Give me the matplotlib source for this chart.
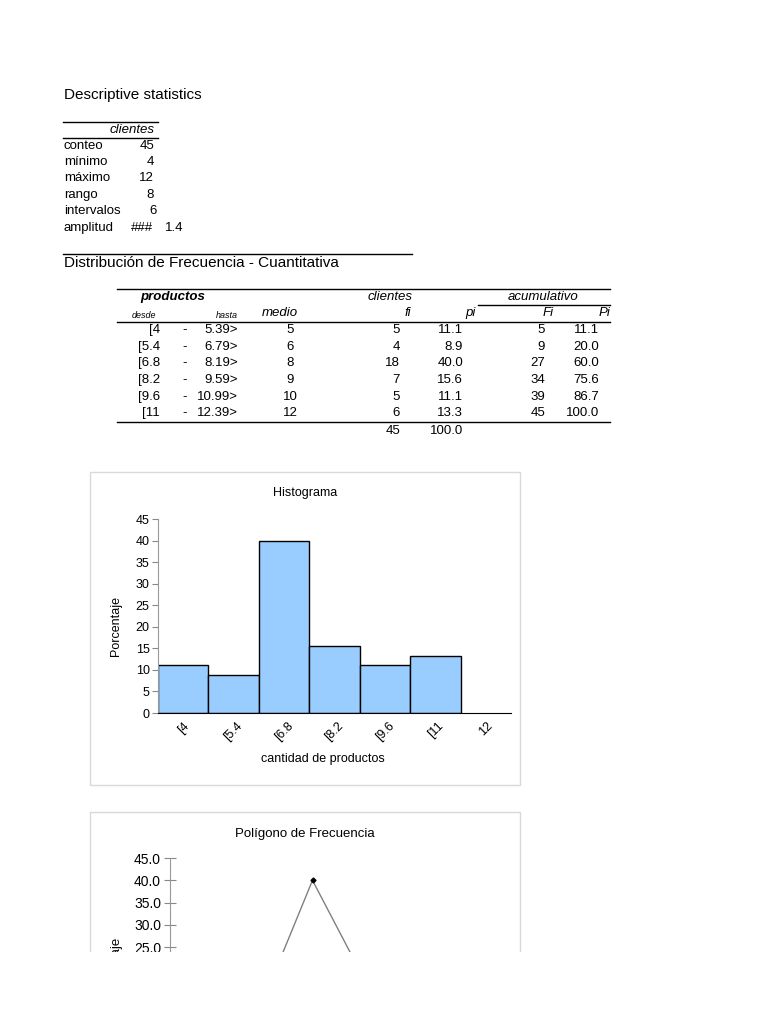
import matplotlib
matplotlib.use("Agg")
import matplotlib.pyplot as plt
from matplotlib.patches import Rectangle
from matplotlib.lines import Line2D

plt.rcParams['font.family'] = ['Liberation Sans', 'DejaVu Sans']

# ---------------- data ----------------
stat_names = ["conteo", "mínimo", "máximo", "rango", "intervalos", "amplitud"]
stat_values = ["45", "4", "12", "8", "6", "###"]
amplitud_extra = "1.4"

desde = ["[4", "[5.4", "[6.8", "[8.2", "[9.6", "[11"]
hasta = ["5.39>", "6.79>", "8.19>", "9.59>", "10.99>", "12.39>"]
medio = [5, 6, 8, 9, 10, 12]
fi = [5, 4, 18, 7, 5, 6]
pi = [11.1, 8.9, 40.0, 15.6, 11.1, 13.3]
Fi = [5, 9, 27, 34, 39, 45]
Pi = [11.1, 20.0, 60.0, 75.6, 86.7, 100.0]
total_fi = 45
total_pi = 100.0

hist_labels = ["[4", "[5.4", "[6.8", "[8.2", "[9.6", "[11", "12"]
hist_yticks = [0, 5, 10, 15, 20, 25, 30, 35, 40, 45]
poly_yticks = [0, 5, 10, 15, 20, 25, 30, 35, 40, 45]

W, H = 768, 1024
fig = plt.figure(figsize=(W / 100, H / 100), dpi=100)
fig.patch.set_facecolor('white')

TFS = 9.5  # table font size


def fx(x):
    return x / W


def fy(y):
    return 1 - y / H


def txt(x, y, s, **kw):
    kw.setdefault('va', 'center')
    kw.setdefault('fontsize', TFS)
    fig.text(fx(x), fy(y), s, **kw)


def hline(x0, x1, y, color='black', lw=1.0):
    fig.add_artist(Line2D([fx(x0), fx(x1)], [fy(y), fy(y)],
                          transform=fig.transFigure, color=color, lw=lw))


# ---------------- Descriptive statistics ----------------
txt(64, 95, "Descriptive statistics", fontsize=11)
hline(63, 158, 122)
txt(155, 130, "clientes", ha='right', style='italic')
hline(63, 158, 138)
row_y = [146, 162, 178, 195, 211, 228]
val_x = [154, 154, 154, 154, 157, 153]
for name, val, y, vx in zip(stat_names, stat_values, row_y, val_x):
    txt(64, y, name)
    txt(vx, y, val, ha='right')
txt(165, 228, amplitud_extra)

hline(63, 412, 254)
txt(64, 263, "Distribución de Frecuencia - Cuantitativa", fontsize=11)

# ---------------- Frequency table ----------------
hline(117, 610, 289)
txt(173, 297, "productos", ha='center', style='italic', weight='bold')
txt(390, 297, "clientes", ha='center', style='italic')
txt(543, 297, "acumulativo", ha='center', style='italic')
hline(478, 610, 305)
txt(144, 315, "desde", ha='center', style='italic', fontsize=6.5)
txt(238, 315, "hasta", ha='right', style='italic', fontsize=6.5)
txt(280, 313, "medio", ha='center', style='italic')
txt(411, 313, "fi", ha='right', style='italic')
txt(476, 313, "pi", ha='right', style='italic')
txt(554, 313, "Fi", ha='right', style='italic')
txt(610, 313, "Pi", ha='right', style='italic')
hline(117, 610, 322)

trow_y = [330, 347, 363, 380, 397, 413]
for i, y in enumerate(trow_y):
    txt(160, y, desde[i], ha='right')
    txt(185, y, "-", ha='center')
    txt(238, y, hasta[i], ha='right')
    txt(290, y, str(medio[i]), ha='center')
    txt(400, y, str(fi[i]), ha='right')
    txt(463, y, f"{pi[i]:.1f}", ha='right')
    txt(545, y, str(Fi[i]), ha='right')
    txt(599, y, f"{Pi[i]:.1f}", ha='right')
hline(117, 610, 422)
txt(400, 431, str(total_fi), ha='right')
txt(463, 431, f"{total_pi:.1f}", ha='right')

# ---------------- Histogram ----------------
frame_col = '#d9d9d9'
fig.add_artist(Rectangle((fx(90), fy(785)), fx(520) - fx(90), fy(472) - fy(785),
                         transform=fig.transFigure, fill=False,
                         edgecolor=frame_col, lw=1))
txt(305, 493, "Histograma", ha='center', fontsize=9)

ax = fig.add_axes([fx(158), fy(713), fx(511) - fx(158), fy(519) - fy(713)])
xpos = list(range(len(hist_labels)))
ax.bar(xpos[:len(pi)], pi, width=1.0, align='center', color='#99ccff',
       edgecolor='black', linewidth=1)
ax.set_xlim(-0.5, len(hist_labels) - 0.5)
ax.set_ylim(0, 45)
ax.set_yticks(hist_yticks)
ax.set_xticks(xpos)
ax.set_xticklabels(hist_labels, rotation=45, ha='center', fontsize=9)
ax.tick_params(axis='x', length=0, pad=5)
ax.tick_params(axis='y', length=4, color='#888888', labelsize=9, pad=2)
for s in ['top', 'right']:
    ax.spines[s].set_visible(False)
ax.spines['left'].set_color('#999999')
ax.spines['bottom'].set_color('black')
ax.set_facecolor('none')
txt(116, 626, "Porcentaje", ha='center', rotation=90, fontsize=9)
txt(323, 759, "cantidad de productos", ha='center', fontsize=9)

# ---------------- Polygon ----------------
fig.add_artist(Rectangle((fx(90), fy(1100)), fx(520) - fx(90), fy(812) - fy(1100),
                         transform=fig.transFigure, fill=False,
                         edgecolor=frame_col, lw=1))
txt(305, 834, "Polígono de Frecuencia", ha='center', fontsize=9.5)
ax2 = fig.add_axes([fx(170), fy(1059), fx(512) - fx(170), fy(858) - fy(1059)])
ppos = list(range(len(pi)))
ax2.plot(ppos, pi, color='#808080', lw=1, marker='D', markersize=2.5,
         markerfacecolor='black', markeredgecolor='black')
ax2.set_xlim(-0.5, len(pi) - 0.5)
ax2.set_ylim(0, 45)
ax2.set_yticks(poly_yticks)
ax2.set_yticklabels([f"{v:.1f}" for v in poly_yticks])
ax2.set_xticks(ppos)
ax2.set_xticklabels([])
ax2.tick_params(axis='x', length=0)
ax2.tick_params(axis='y', direction='inout', length=9, color='#888888',
                labelsize=10, pad=2)
for s in ['top', 'right']:
    ax2.spines[s].set_visible(False)
ax2.spines['left'].set_color('#999999')
ax2.set_facecolor('none')
txt(116, 967, "Porcentaje", ha='center', rotation=90, fontsize=9.5)

# page ends here: blank below
fig.add_artist(Rectangle((0, 0), 1, fy(952), transform=fig.transFigure,
                         facecolor='white', edgecolor='none', zorder=10))

fig.savefig("out.png", dpi=100, facecolor='white')
